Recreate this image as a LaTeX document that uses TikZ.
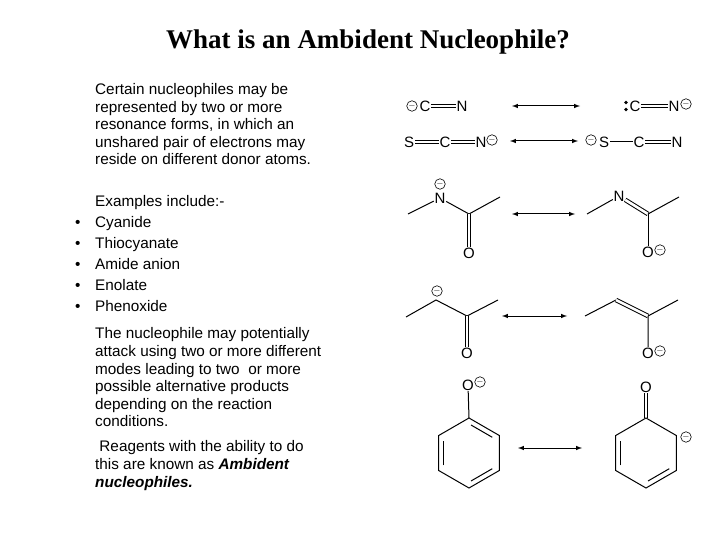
\documentclass[tikz,border=0pt]{standalone}
\usepackage{fontspec}
\usetikzlibrary{calc}
\setmainfont{Liberation Sans}
\newfontfamily\titlefont{Liberation Serif}
\begin{document}
\begin{tikzpicture}[x=1pt,y=-1pt,
  atom/.style={inner sep=0.6pt,font=\fontsize{15}{15}\selectfont},
  txt/.style={anchor=base west,inner sep=0,font=\fontsize{15.3}{17}\selectfont},
  bond/.style={line width=1pt},
  dbl/.style={line width=1pt,double,double distance=2.6pt},
  rarrow/.style={line width=1pt,<->,>=latex},
  minus/.style={circle,draw,line width=0.6pt,minimum size=10.5pt,inner sep=0,font=\fontsize{9}{9}\selectfont}]
\useasboundingbox (0,0) rectangle (720,540);
\node[font=\titlefont\bfseries\fontsize{27}{27}\selectfont] (title) at (368,42) {What is an Ambident Nucleophile?};
% text
\foreach \t/\y [count=\i] in {Certain nucleophiles may be/95,represented by two or more/112.5,resonance forms{,} in which an/130,unshared pair of electrons may/148,reside on different donor atoms./165,Examples include:-/207,The nucleophile may potentially/338,attack using two or more different/356,modes leading to two\ \ or more/374,possible alternative products/391,depending on the reaction/409,conditions./426,\ Reagents with the ability to do/451,this are known as \textbf{\itshape Ambident}/469,\textbf{\itshape nucleophiles.}/487}
  \node[txt] (l\i) at (95,\y) {\t};
\foreach \t/\y [count=\i] in {Cyanide/227,Thiocyanate/248,Amide anion/269,Enolate/290,Phenoxide/311}{
  \node[txt] (b\i) at (95,\y) {\t};
  \node[txt] (bd\i) at (75,\y) {\textbullet};}
% row 1 cyanide
\node[minus] (m1) at (412,106) {$-$};
\node[atom] (c1) at (425,106) {C};
\node[atom] (n1) at (462,106) {N};
\draw[bond] (c1) -- (n1);
\draw[dbl] (c1) -- (n1);
\node[atom] (c2) at (635,106) {C};
\fill (626,102.5) circle (1.9pt) (626,109.5) circle (1.9pt);
\node[atom] (n2) at (674,106) {N};
\node[minus] (m2) at (686,104) {$-$};
\draw[bond] (c2) -- (n2); \draw[dbl] (c2) -- (n2);
\coordinate (a1l) at (512,106); \coordinate (a1r) at (580,106);
\draw[rarrow] (a1l) -- (a1r);
% row 2 thiocyanate
\node[atom] (s3) at (409,142) {S};
\node[atom] (c3) at (445,142) {C};
\node[atom] (n3) at (481,142) {N};
\node[minus] (m3) at (492,140) {$-$};
\draw[dbl] (s3) -- (c3); \draw[dbl] (c3) -- (n3);
\node[minus] (m4) at (591,140) {$-$};
\node[atom] (s4) at (604,142) {S};
\node[atom] (c4) at (639,142) {C};
\node[atom] (n4) at (677,142) {N};
\draw[bond] (s4) -- (c4); \draw[bond] (c4) -- (n4); \draw[dbl] (c4) -- (n4);
\coordinate (a2l) at (510,141); \coordinate (a2r) at (578,141);
\draw[rarrow] (a2l) -- (a2r);
% amide
\node[atom] (n5) at (440,198) {N};
\node[minus] (m5) at (440,184) {$-$};
\coordinate (me5) at (408,214); \coordinate (c5) at (469,214); \coordinate (r5) at (500,197);
\node[atom] (o5) at (469,253) {O};
\draw[bond] (me5) -- (n5) -- (c5) -- (r5);
\draw[dbl] (c5) -- (o5);
\coordinate (a3l) at (512,214); \coordinate (a3r) at (575,214);
\draw[rarrow] (a3l) -- (a3r);
\node[atom] (n6) at (619,196) {N};
\coordinate (me6) at (587,214); \coordinate (c6) at (648,214); \coordinate (r6) at (679,197);
\node[atom] (o6) at (648,252) {O};
\node[minus] (m6) at (660,250) {$-$};
\draw[bond] (me6) -- (n6); \draw[dbl] (n6) -- (c6); \draw[bond] (c6) -- (r6); \draw[bond] (c6) -- (o6);
% enolate
\node[minus] (m7) at (437,291) {$-$};
\coordinate (me7) at (406,317); \coordinate (ca7) at (436,300); \coordinate (c7) at (467,316); \coordinate (r7) at (498,300);
\node[atom] (o7) at (467,353) {O};
\draw[bond] (me7) -- (ca7) -- (c7) -- (r7);
\draw[dbl] (c7) -- (o7);
\coordinate (a4l) at (502,316); \coordinate (a4r) at (567,316);
\draw[rarrow] (a4l) -- (a4r);
\coordinate (me8) at (585,316); \coordinate (ca8) at (616,300); \coordinate (c8) at (648,316); \coordinate (r8) at (678,300);
\node[atom] (o8) at (648,353) {O};
\node[minus] (m8) at (660,351) {$-$};
\draw[bond] (me8) -- (ca8); \draw[dbl] (ca8) -- (c8); \draw[bond] (c8) -- (r8) (c8) -- (o8);
% phenoxide
\node[atom] (o9) at (468,385) {O};
\node[minus] (m9) at (480,382) {$-$};
\coordinate (p9t) at (469,418);
\coordinate (p9ur) at (499.3,435.5); \coordinate (p9lr) at (499.3,470.5);
\coordinate (p9b) at (469,488); \coordinate (p9ll) at (438.7,470.5); \coordinate (p9ul) at (438.7,435.5);
\draw[bond] (o9) -- (p9t);
\draw[bond] (p9t) -- (p9ur) -- (p9lr) -- (p9b) -- (p9ll) -- (p9ul) -- cycle;
\draw[bond] ($(p9t)!0.15!(p9ur)+(-2.5,4.4)$) -- ($(p9t)!0.85!(p9ur)+(-2.5,4.4)$);
\draw[bond] ($(p9lr)!0.15!(p9b)+(-2.5,-4.4)$) -- ($(p9lr)!0.85!(p9b)+(-2.5,-4.4)$);
\draw[bond] ($(p9ll)!0.15!(p9ul)+(5,0)$) -- ($(p9ll)!0.85!(p9ul)+(5,0)$);
\coordinate (a5l) at (518,448); \coordinate (a5r) at (582,448);
\draw[rarrow] (a5l) -- (a5r);
\node[atom] (o10) at (646,387) {O};
\coordinate (q9t) at (646,418);
\coordinate (q9ur) at (676.3,435.5); \coordinate (q9lr) at (676.3,470.5);
\coordinate (q9b) at (646,488); \coordinate (q9ll) at (615.7,470.5); \coordinate (q9ul) at (615.7,435.5);
\draw[dbl] (o10) -- (q9t);
\draw[bond] (q9t) -- (q9ur) -- (q9lr) -- (q9b) -- (q9ll) -- (q9ul) -- cycle;
\draw[bond] ($(q9lr)!0.15!(q9b)+(-2.5,-4.4)$) -- ($(q9lr)!0.85!(q9b)+(-2.5,-4.4)$);
\draw[bond] ($(q9ll)!0.15!(q9ul)+(5,0)$) -- ($(q9ll)!0.85!(q9ul)+(5,0)$);
\node[minus] (m10) at (686,437) {$-$};
\end{tikzpicture}
\end{document}
